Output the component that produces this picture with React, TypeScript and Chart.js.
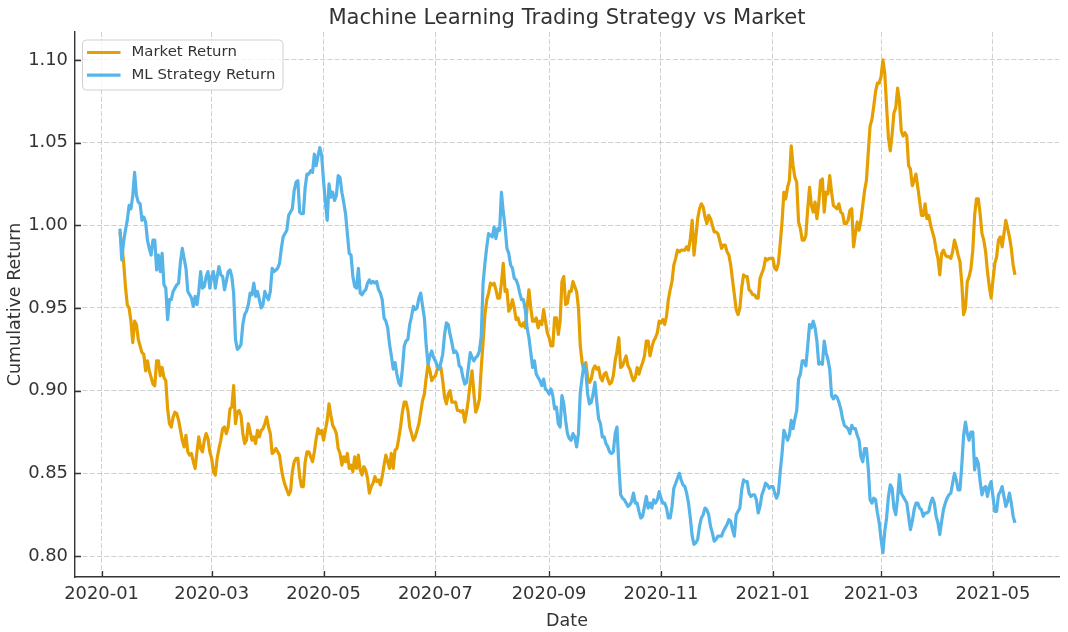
import React, { useEffect, useRef } from "react";
import { Chart, registerables } from "chart.js";

Chart.register(...registerables);

// ---------------- data ----------------
const TITLE = "Machine Learning Trading Strategy vs Market";
const X_LABEL = "Date";
const Y_LABEL = "Cumulative Return";
const START_DATE = "2020-01-11"; // first daily observation
const SERIES_NAMES = ["Market Return", "ML Strategy Return"];
const X_TICK_LABELS = ["2020-01", "2020-03", "2020-05", "2020-07", "2020-09", "2020-11", "2021-01", "2021-03", "2021-05"];
const Y_TICK_VALUES = [0.8, 0.85, 0.9, 0.95, 1.0, 1.05, 1.1];

const marketReturn = [
  0.996, 0.988, 0.978, 0.963, 0.952, 0.950, 0.942, 0.929, 0.942, 0.940,
  0.931, 0.927, 0.923, 0.922, 0.912, 0.918, 0.912, 0.908, 0.904, 0.903,
  0.918, 0.918, 0.909, 0.914, 0.908, 0.906, 0.889, 0.880, 0.878, 0.884,
  0.887, 0.886, 0.882, 0.876, 0.870, 0.866, 0.873, 0.863, 0.861, 0.862,
  0.857, 0.853, 0.863, 0.872, 0.865, 0.863, 0.870, 0.874, 0.871, 0.863,
  0.859, 0.851, 0.849, 0.859, 0.865, 0.870, 0.877, 0.878, 0.874, 0.878,
  0.889, 0.890, 0.903, 0.880, 0.887, 0.888, 0.885, 0.874, 0.868, 0.870,
  0.880, 0.875, 0.870, 0.872, 0.868, 0.876, 0.872, 0.876, 0.877, 0.880,
  0.884, 0.878, 0.874, 0.862, 0.863, 0.865, 0.863, 0.861, 0.853, 0.847,
  0.843, 0.840, 0.837, 0.839, 0.851, 0.857, 0.859, 0.859, 0.848, 0.842,
  0.842, 0.857, 0.863, 0.863, 0.860, 0.857, 0.863, 0.871, 0.877, 0.874,
  0.876, 0.870, 0.876, 0.882, 0.892, 0.885, 0.879, 0.877, 0.874, 0.865,
  0.862, 0.855, 0.860, 0.857, 0.862, 0.853, 0.855, 0.851, 0.860, 0.853,
  0.861, 0.852, 0.849, 0.854, 0.852, 0.847, 0.838, 0.842, 0.844, 0.848,
  0.845, 0.846, 0.843, 0.848, 0.855, 0.861, 0.857, 0.853, 0.862, 0.853,
  0.864, 0.865, 0.871, 0.878, 0.887, 0.893, 0.893, 0.888, 0.878, 0.874,
  0.870, 0.872, 0.876, 0.880, 0.887, 0.894, 0.898, 0.908, 0.916, 0.912,
  0.906, 0.908, 0.909, 0.913, 0.915, 0.914, 0.906, 0.896, 0.892, 0.898,
  0.900, 0.893, 0.893, 0.893, 0.888, 0.888, 0.887, 0.888, 0.881, 0.887,
  0.895, 0.905, 0.912, 0.898, 0.887, 0.890, 0.895, 0.914, 0.929, 0.946,
  0.955, 0.959, 0.965, 0.964, 0.965, 0.961, 0.956, 0.956, 0.965, 0.977,
  0.960, 0.961, 0.948, 0.950, 0.955, 0.950, 0.943, 0.944, 0.940, 0.939,
  0.941, 0.938, 0.950, 0.961, 0.950, 0.942, 0.942, 0.944, 0.938, 0.942,
  0.940, 0.949, 0.942, 0.935, 0.932, 0.927, 0.927, 0.944, 0.944, 0.934,
  0.942, 0.966, 0.969, 0.952, 0.953, 0.960, 0.960, 0.966, 0.963, 0.960,
  0.950, 0.927, 0.917, 0.912, 0.917, 0.908, 0.905, 0.907, 0.913, 0.915,
  0.913, 0.914, 0.908, 0.906, 0.910, 0.911, 0.907, 0.904, 0.905, 0.909,
  0.918, 0.924, 0.932, 0.914, 0.915, 0.918, 0.921, 0.915, 0.913, 0.909,
  0.906, 0.908, 0.914, 0.910, 0.914, 0.917, 0.921, 0.930, 0.930, 0.921,
  0.926, 0.930, 0.932, 0.935, 0.942, 0.941, 0.943, 0.940, 0.945, 0.955,
  0.961, 0.966, 0.976, 0.980, 0.985, 0.984, 0.985, 0.985, 0.985, 0.987,
  0.985, 0.992, 1.003, 0.982, 0.993, 1.004, 1.010, 1.013, 1.011, 1.005,
  1.001, 1.006, 1.004, 1.000, 0.996, 0.996, 0.995, 0.991, 0.986, 0.988,
  0.988, 0.984, 0.982, 0.976, 0.967, 0.958, 0.949, 0.946, 0.950, 0.962,
  0.970, 0.969, 0.969, 0.961, 0.960, 0.958, 0.958, 0.956, 0.956, 0.968,
  0.971, 0.974, 0.980, 0.979, 0.980, 0.980, 0.980, 0.974, 0.973, 0.977,
  0.989, 1.002, 1.020, 1.016, 1.023, 1.027, 1.048, 1.036, 1.029, 1.026,
  1.002, 0.998, 0.991, 0.991, 0.994, 1.010, 1.023, 1.012, 1.008, 1.014,
  1.004, 1.013, 1.027, 1.028, 1.008, 1.020, 1.019, 1.030, 1.020, 1.012,
  1.011, 1.010, 1.013, 1.008, 1.007, 1.001, 1.001, 1.003, 1.009, 1.010,
  0.987, 0.995, 1.002, 0.997, 1.003, 1.012, 1.021, 1.027, 1.044, 1.060,
  1.064, 1.072, 1.081, 1.086, 1.086, 1.090, 1.100, 1.092, 1.072, 1.053,
  1.045, 1.055, 1.068, 1.071, 1.083, 1.075, 1.057, 1.054, 1.056, 1.054,
  1.036, 1.034, 1.024, 1.027, 1.031, 1.023, 1.015, 1.006, 1.006, 1.013,
  1.004, 1.006, 1.000, 0.996, 0.992, 0.985, 0.980, 0.970, 0.983, 0.985,
  0.982, 0.981, 0.981, 0.980, 0.984, 0.991, 0.987, 0.982, 0.978, 0.965,
  0.946, 0.950, 0.966, 0.969, 0.974, 0.985, 1.006, 1.016, 1.016, 1.007,
  0.995, 0.991, 0.984, 0.972, 0.963, 0.956, 0.967, 0.977, 0.981, 0.991,
  0.993, 0.987, 0.995, 1.003, 0.998, 0.993, 0.986, 0.976, 0.970,
];

const mlStrategyReturn = [
  0.998, 0.979, 0.990, 0.997, 1.003, 1.012, 1.010, 1.018, 1.032, 1.018,
  1.014, 1.013, 1.003, 1.005, 1.002, 0.991, 0.986, 0.982, 0.991, 0.991,
  0.973, 0.982, 0.972, 0.983, 0.964, 0.962, 0.943, 0.955, 0.955, 0.960,
  0.962, 0.964, 0.965, 0.978, 0.986, 0.980, 0.974, 0.960, 0.958, 0.956,
  0.951, 0.957, 0.952, 0.960, 0.972, 0.962, 0.963, 0.969, 0.972, 0.962,
  0.969, 0.972, 0.962, 0.969, 0.975, 0.970, 0.969, 0.961, 0.966, 0.972,
  0.973, 0.969, 0.959, 0.931, 0.925, 0.926, 0.928, 0.940, 0.946, 0.948,
  0.952, 0.959, 0.958, 0.965, 0.957, 0.960, 0.955, 0.950, 0.952, 0.960,
  0.957, 0.955, 0.960, 0.974, 0.972, 0.973, 0.974, 0.977, 0.986, 0.993,
  0.995, 0.997, 1.006, 1.008, 1.010, 1.021, 1.026, 1.027, 1.008, 1.007,
  1.007, 1.023, 1.031, 1.031, 1.033, 1.032, 1.043, 1.036, 1.042, 1.047,
  1.042, 1.027, 1.014, 1.003, 1.025, 1.017, 1.020, 1.015, 1.018, 1.030,
  1.029, 1.020, 1.014, 1.007, 0.995, 0.983, 0.982, 0.969, 0.963, 0.962,
  0.974, 0.959, 0.958, 0.960, 0.961, 0.965, 0.967, 0.965, 0.966, 0.965,
  0.966, 0.961, 0.959, 0.955, 0.944, 0.942, 0.938, 0.928, 0.921, 0.913,
  0.917, 0.910, 0.905, 0.903, 0.913, 0.927, 0.930, 0.931, 0.940, 0.945,
  0.951, 0.949, 0.950, 0.956, 0.959, 0.951, 0.944, 0.927, 0.916, 0.921,
  0.924, 0.920, 0.918, 0.915, 0.913, 0.917, 0.922, 0.934, 0.941, 0.940,
  0.934, 0.929, 0.923, 0.924, 0.922, 0.915, 0.914, 0.908, 0.904, 0.905,
  0.914, 0.923, 0.920, 0.918, 0.920, 0.921, 0.924, 0.933, 0.965, 0.977,
  0.987, 0.995, 0.994, 0.993, 0.999, 0.992, 0.998, 0.997, 1.020, 1.008,
  0.999, 0.986, 0.983, 0.976, 0.974, 0.968, 0.967, 0.964, 0.959, 0.955,
  0.955, 0.949, 0.938, 0.932, 0.923, 0.914, 0.918, 0.910, 0.908, 0.906,
  0.903, 0.907, 0.901, 0.900, 0.898, 0.901, 0.897, 0.889, 0.890, 0.880,
  0.878, 0.897, 0.892, 0.882, 0.874, 0.871, 0.870, 0.874, 0.872, 0.866,
  0.874, 0.899, 0.908, 0.916, 0.912, 0.898, 0.892, 0.893, 0.898, 0.905,
  0.893, 0.883, 0.880, 0.872, 0.872, 0.868, 0.866, 0.863, 0.862, 0.863,
  0.874, 0.878, 0.855, 0.837, 0.835, 0.834, 0.832, 0.830, 0.831, 0.833,
  0.838, 0.832, 0.832, 0.827, 0.823, 0.824, 0.830, 0.836, 0.829, 0.832,
  0.829, 0.834, 0.832, 0.834, 0.839, 0.835, 0.832, 0.832, 0.829, 0.823,
  0.823, 0.830, 0.841, 0.844, 0.847, 0.850, 0.846, 0.843, 0.842, 0.838,
  0.832, 0.823, 0.812, 0.807, 0.808, 0.810, 0.818, 0.823, 0.825, 0.829,
  0.828, 0.825, 0.818, 0.814, 0.809, 0.810, 0.812, 0.812, 0.812, 0.815,
  0.817, 0.819, 0.822, 0.821, 0.816, 0.812, 0.825, 0.827, 0.829, 0.840,
  0.846, 0.845, 0.845, 0.838, 0.836, 0.837, 0.837, 0.834, 0.826, 0.830,
  0.837, 0.840, 0.844, 0.843, 0.841, 0.842, 0.842, 0.838, 0.835, 0.838,
  0.851, 0.862, 0.876, 0.873, 0.870, 0.873, 0.882, 0.877, 0.883, 0.888,
  0.907, 0.910, 0.918, 0.918, 0.915, 0.927, 0.940, 0.938, 0.942, 0.938,
  0.930, 0.916, 0.917, 0.916, 0.930, 0.923, 0.919, 0.913, 0.897, 0.895,
  0.897, 0.896, 0.893, 0.889, 0.883, 0.879, 0.878, 0.877, 0.874, 0.879,
  0.877, 0.877, 0.873, 0.870, 0.860, 0.857, 0.865, 0.865, 0.853, 0.834,
  0.832, 0.835, 0.834, 0.826, 0.820, 0.810, 0.802, 0.815, 0.823, 0.836,
  0.843, 0.841, 0.829, 0.825, 0.835, 0.849, 0.838, 0.836, 0.834, 0.832,
  0.824, 0.816, 0.821, 0.828, 0.832, 0.832, 0.829, 0.828, 0.824, 0.826,
  0.826, 0.827, 0.832, 0.835, 0.832, 0.824, 0.820, 0.813, 0.821, 0.828,
  0.832, 0.835, 0.837, 0.838, 0.844, 0.850, 0.846, 0.840, 0.840, 0.855,
  0.873, 0.881, 0.874, 0.870, 0.875, 0.875, 0.852, 0.859, 0.856, 0.845,
  0.837, 0.841, 0.842, 0.836, 0.842, 0.845, 0.836, 0.827, 0.827, 0.837,
  0.839, 0.842, 0.836, 0.830, 0.833, 0.838, 0.832, 0.824, 0.820,
];

// ---------------- helpers ----------------
const DAY_MS = 86400000;
const ORIGIN = Date.UTC(2020, 0, 1);
const dayOf = (iso: string) => {
  const [y, m, d] = iso.split("-").map(Number);
  return (Date.UTC(y, m - 1, d || 1) - ORIGIN) / DAY_MS;
};
const startDay = dayOf(START_DATE);
const xTickDays = X_TICK_LABELS.map((l) => dayOf(l));

const FONT = "'DejaVu Sans', 'Liberation Sans', sans-serif";
const TEXT = "#333333";
const COLORS = ["#E69F00", "#56B4E9"];
const GRID = "rgba(176,176,176,0.6)";

const decorPlugin = {
  id: "decor",
  afterDraw(chart: any) {
    const { ctx, chartArea: a, scales } = chart;
    ctx.save();
    // inward tick marks
    ctx.strokeStyle = TEXT;
    ctx.lineWidth = 1.3;
    ctx.beginPath();
    for (const d of xTickDays) {
      const px = Math.round(scales.x.getPixelForValue(d)) + 0.5;
      ctx.moveTo(px, a.bottom);
      ctx.lineTo(px, a.bottom - 6);
    }
    for (const v of Y_TICK_VALUES) {
      const py = Math.round(scales.y.getPixelForValue(v)) + 0.5;
      ctx.moveTo(a.left, py);
      ctx.lineTo(a.left + 6, py);
    }
    ctx.stroke();

    // title
    const cx = (a.left + a.right) / 2;
    ctx.fillStyle = TEXT;
    ctx.font = `21.1px ${FONT}`;
    ctx.textAlign = "center";
    ctx.textBaseline = "alphabetic";
    ctx.fillText(TITLE, cx, 23.5);

    // axis titles
    ctx.font = `17.5px ${FONT}`;
    ctx.fillText(X_LABEL, cx, 626);
    ctx.save();
    ctx.translate(19.5, (a.top + a.bottom) / 2);
    ctx.rotate(-Math.PI / 2);
    ctx.fillText(Y_LABEL, 0, 0);
    ctx.restore();

    // legend
    const lx = a.left + 7.5;
    const ly = a.top + 8;
    ctx.beginPath();
    ctx.roundRect(lx, ly, 200.5, 50, 4);
    ctx.fillStyle = "rgba(255,255,255,0.8)";
    ctx.fill();
    ctx.strokeStyle = "rgba(204,204,204,0.9)";
    ctx.lineWidth = 1;
    ctx.stroke();
    ctx.font = `14.9px ${FONT}`;
    ctx.textAlign = "left";
    ctx.textBaseline = "middle";
    SERIES_NAMES.forEach((name, i) => {
      const y = ly + 12.5 + i * 22.7;
      ctx.strokeStyle = COLORS[i];
      ctx.lineWidth = 3.2;
      ctx.beginPath();
      ctx.moveTo(lx + 4.5, y);
      ctx.lineTo(lx + 38, y);
      ctx.stroke();
      ctx.fillStyle = TEXT;
      ctx.fillText(name, lx + 49, y);
    });
    ctx.restore();
  },
};

export default function App() {
  const ref = useRef<HTMLCanvasElement>(null);

  useEffect(() => {
    if (!ref.current) return;
    const toPts = (arr: number[]) => arr.map((v, i) => ({ x: startDay + i, y: v }));
    const tickFont = { family: FONT, size: 17.9 };
    const chart = new Chart(ref.current, {
      type: "line",
      data: {
        datasets: [
          {
            label: SERIES_NAMES[0],
            data: toPts(marketReturn),
            borderColor: COLORS[0],
            backgroundColor: COLORS[0],
            borderWidth: 3.2,
            pointRadius: 0,
            tension: 0,
            fill: false,
            borderJoinStyle: "round",
            order: 2,
          },
          {
            label: SERIES_NAMES[1],
            data: toPts(mlStrategyReturn),
            borderColor: COLORS[1],
            backgroundColor: COLORS[1],
            borderWidth: 3.2,
            pointRadius: 0,
            tension: 0,
            fill: false,
            borderJoinStyle: "round",
            order: 1,
          },
        ],
      },
      options: {
        responsive: false,
        animation: false,
        devicePixelRatio: 1,
        layout: { padding: { top: 32, right: 9, left: 0, bottom: 0 } },
        plugins: { legend: { display: false }, tooltip: { enabled: false }, title: { display: false } },
        events: [],
        scales: {
          x: {
            type: "linear",
            bounds: "data",
            min: -14.5,
            max: 522,
            afterBuildTicks: (s: any) => {
              s.ticks = xTickDays.map((v) => ({ value: v }));
            },
            afterFit: (s: any) => {
              s.height = 55;
            },
            ticks: {
              autoSkip: false,
              maxRotation: 0,
              minRotation: 0,
              padding: 6.5,
              color: TEXT,
              font: tickFont,
              callback: (_v: any, i: number) => X_TICK_LABELS[i],
            },
            grid: { color: GRID, lineWidth: 1, drawTicks: false },
            border: { display: true, color: TEXT, width: 1.4, dash: [5, 2.2] },
          },
          y: {
            type: "linear",
            bounds: "data",
            min: 0.7873,
            max: 1.1169,
            afterBuildTicks: (s: any) => {
              s.ticks = Y_TICK_VALUES.map((v) => ({ value: v }));
            },
            afterFit: (s: any) => {
              s.width = 75;
            },
            ticks: {
              padding: 7,
              color: TEXT,
              font: tickFont,
              callback: (v: any) => Number(v).toFixed(2),
            },
            grid: { color: GRID, lineWidth: 1, drawTicks: false },
            border: { display: true, color: TEXT, width: 1.4, dash: [5, 2.2] },
          },
        },
      },
      plugins: [decorPlugin],
    } as any);
    return () => chart.destroy();
  }, []);

  return (
    <div style={{ position: "absolute", left: 0, top: 0, width: 1068, height: 632, background: "#ffffff" }}>
      <canvas ref={ref} width={1068} height={632} style={{ display: "block", width: 1068, height: 632 }} />
    </div>
  );
}
